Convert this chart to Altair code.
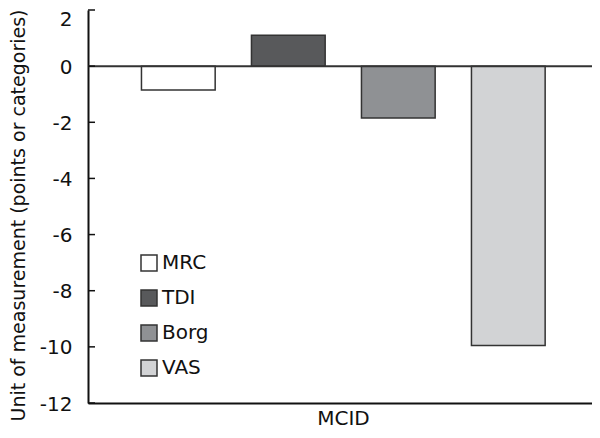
import altair as alt
import pandas as pd

measures = ["MRC", "TDI", "Borg", "VAS"]
values = [-0.85, 1.1, -1.85, -9.95]
colors = ["#ffffff", "#58595b", "#8f9194", "#d2d3d5"]
y_ticks = [2, 0, -2, -4, -6, -8, -10, -12]
zero_line = [0]

FONT = "DejaVu Sans"

df = pd.DataFrame({"measure": measures, "value": values})
ticks_df = pd.DataFrame({"v": y_ticks})
zero_df = pd.DataFrame({"v": zero_line})

yscale = alt.Scale(domain=[-12, 2], nice=False, zero=False)

bars = alt.Chart(df).mark_bar(stroke="#333333", strokeWidth=1.5).encode(
    x=alt.X("measure:N", sort=measures,
            scale=alt.Scale(paddingInner=0.33, paddingOuter=0.456, align=0.533),
            axis=alt.Axis(title="MCID", labels=False, ticks=False, domain=True,
                          domainColor="#111111", domainWidth=2,
                          titleFont=FONT, titleFontSize=20, titleFontWeight="normal",
                          titleColor="#111111", titleX=255, titleY=25,
                          titleBaseline="bottom")),
    y=alt.Y("value:Q", scale=yscale,
            axis=alt.Axis(title="Unit of measurement (points or categories)",
                          values=y_ticks, ticks=False, grid=False,
                          labelExpr="'' + datum.value",
                          labelOffset={"condition": {"test": "datum.value == 2", "value": 9.5},
                                       "value": 1},
                          domainColor="#111111", domainWidth=2,
                          labelFont=FONT, labelFontSize=20, labelColor="#111111",
                          labelPadding=16,
                          titleFont=FONT, titleFontSize=19, titleFontWeight="normal",
                          titleColor="#111111", titleX=-79, titleY=205,
                          titleBaseline="top")),
    fill=alt.Fill("measure:N", sort=measures,
                  scale=alt.Scale(domain=measures, range=colors),
                  legend=alt.Legend(title=None, orient="none", legendX=51, legendY=243,
                                    symbolType="square", symbolSize=256,
                                    symbolStrokeColor="#333333", symbolStrokeWidth=1.5,
                                    symbolOpacity=1,
                                    labelFont=FONT, labelFontSize=20, labelColor="#111111",
                                    labelOffset=3, rowPadding=13)),
)

tick_marks = alt.Chart(ticks_df).mark_rule(color="#111111", strokeWidth=1.5).encode(
    y=alt.Y("v:Q", scale=yscale),
    x=alt.value(0),
    x2=alt.value(7),
)

zero = alt.Chart(zero_df).mark_rule(color="#333333", strokeWidth=2).encode(
    y=alt.Y("v:Q", scale=yscale),
)

chart = alt.layer(bars, zero, tick_marks).properties(
    width=504, height=393,
    autosize=alt.AutoSizeParams(type="none"),
    padding={"left": 80, "top": 2, "right": 0, "bottom": 27},
).configure_view(stroke=None)

chart.save("out.html", embed_options={"renderer": "svg", "actions": False})
